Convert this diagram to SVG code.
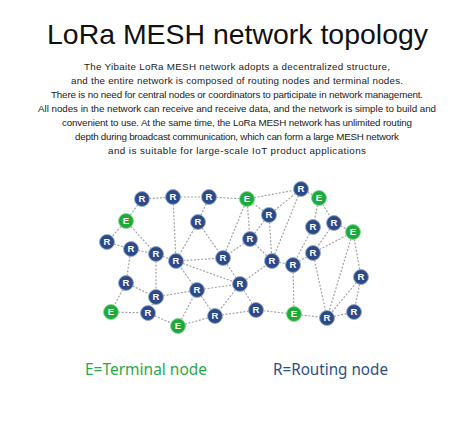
<svg xmlns="http://www.w3.org/2000/svg" width="474" height="424" viewBox="0 0 474 424">
<style>
.title{font-family:"Liberation Sans",Arial,sans-serif;font-size:28px;fill:#111}
.para{font-family:"Liberation Sans",Arial,sans-serif;font-size:9.8px;fill:#222;text-anchor:middle}
.edge{stroke:#a3a3a8;stroke-width:1.2;stroke-dasharray:2 1.6;fill:none}
.r circle{fill:#2c4a88;stroke:#9aaccd;stroke-width:1}
.e circle{fill:#1daa3a;stroke:#8ad89a;stroke-width:1}
.lbl{font-family:"Liberation Sans",Arial,sans-serif;font-size:9.5px;font-weight:bold;fill:#fff;text-anchor:middle}
.leg{font-family:"Noto Sans","Liberation Sans",sans-serif;font-size:15.5px}
</style>
<rect width="474" height="424" fill="#fff"/>
<text class="title" x="47" y="43.5" textLength="381" lengthAdjust="spacingAndGlyphs">LoRa MESH network topology</text>
<g id="description">
<text class="para" x="237" y="70" textLength="306" lengthAdjust="spacing">The Yibaite LoRa MESH network adopts a decentralized structure,</text>
<text class="para" x="237" y="84" textLength="332" lengthAdjust="spacing">and the entire network is composed of routing nodes and terminal nodes.</text>
<text class="para" x="237" y="98" textLength="372" lengthAdjust="spacing">There is no need for central nodes or coordinators to participate in network management.</text>
<text class="para" x="237" y="112" textLength="398" lengthAdjust="spacing">All nodes in the network can receive and receive data, and the network is simple to build and</text>
<text class="para" x="237" y="126" textLength="350" lengthAdjust="spacing">convenient to use. At the same time, the LoRa MESH network has unlimited routing</text>
<text class="para" x="237" y="140" textLength="324" lengthAdjust="spacing">depth during broadcast communication, which can form a large MESH network</text>
<text class="para" x="237" y="154" textLength="258" lengthAdjust="spacing">and is suitable for large-scale IoT product applications</text>
</g>
<g id="connectors" class="edge">
<line x1="142" y1="199" x2="173" y2="197"/>
<line x1="173" y1="197" x2="209" y2="197"/>
<line x1="209" y1="197" x2="247" y2="199"/>
<line x1="142" y1="199" x2="126" y2="221"/>
<line x1="126" y1="221" x2="107" y2="242"/>
<line x1="107" y1="242" x2="131" y2="249"/>
<line x1="131" y1="249" x2="156" y2="254"/>
<line x1="126" y1="221" x2="156" y2="254"/>
<line x1="156" y1="254" x2="176" y2="261"/>
<line x1="173" y1="197" x2="176" y2="261"/>
<line x1="209" y1="197" x2="198" y2="222"/>
<line x1="198" y1="222" x2="176" y2="261"/>
<line x1="198" y1="222" x2="223" y2="258"/>
<line x1="176" y1="261" x2="223" y2="258"/>
<line x1="247" y1="199" x2="301" y2="189"/>
<line x1="247" y1="199" x2="269" y2="215"/>
<line x1="247" y1="199" x2="250" y2="239"/>
<line x1="247" y1="199" x2="223" y2="258"/>
<line x1="269" y1="215" x2="250" y2="239"/>
<line x1="269" y1="215" x2="301" y2="189"/>
<line x1="301" y1="189" x2="272" y2="261"/>
<line x1="301" y1="189" x2="319" y2="198"/>
<line x1="319" y1="198" x2="313" y2="227"/>
<line x1="319" y1="198" x2="334" y2="223"/>
<line x1="334" y1="223" x2="353" y2="232"/>
<line x1="313" y1="227" x2="293" y2="265"/>
<line x1="334" y1="223" x2="313" y2="253"/>
<line x1="313" y1="253" x2="353" y2="232"/>
<line x1="313" y1="253" x2="293" y2="265"/>
<line x1="272" y1="261" x2="293" y2="265"/>
<line x1="250" y1="239" x2="272" y2="261"/>
<line x1="269" y1="215" x2="272" y2="261"/>
<line x1="250" y1="239" x2="223" y2="258"/>
<line x1="353" y1="232" x2="361" y2="277"/>
<line x1="353" y1="232" x2="327" y2="318"/>
<line x1="361" y1="277" x2="327" y2="318"/>
<line x1="361" y1="277" x2="354" y2="312"/>
<line x1="327" y1="318" x2="354" y2="312"/>
<line x1="294" y1="314" x2="327" y2="318"/>
<line x1="293" y1="265" x2="294" y2="314"/>
<line x1="313" y1="253" x2="327" y2="318"/>
<line x1="294" y1="314" x2="256" y2="310"/>
<line x1="240" y1="284" x2="256" y2="310"/>
<line x1="240" y1="284" x2="272" y2="261"/>
<line x1="240" y1="284" x2="215" y2="316"/>
<line x1="256" y1="310" x2="215" y2="316"/>
<line x1="240" y1="284" x2="223" y2="258"/>
<line x1="131" y1="249" x2="126" y2="283"/>
<line x1="126" y1="283" x2="111" y2="312"/>
<line x1="126" y1="283" x2="156" y2="297"/>
<line x1="156" y1="254" x2="156" y2="297"/>
<line x1="156" y1="297" x2="148" y2="313"/>
<line x1="111" y1="312" x2="148" y2="313"/>
<line x1="148" y1="313" x2="178" y2="326"/>
<line x1="178" y1="326" x2="215" y2="316"/>
<line x1="178" y1="326" x2="197" y2="290"/>
<line x1="156" y1="297" x2="197" y2="290"/>
<line x1="197" y1="290" x2="176" y2="261"/>
<line x1="197" y1="290" x2="215" y2="316"/>
<line x1="197" y1="290" x2="240" y2="284"/>
<line x1="176" y1="261" x2="240" y2="284"/>
</g>
<g id="n1" class="r"><circle cx="142" cy="199" r="7.5"/><text class="lbl" x="142" y="202.4">R</text></g>
<g id="n2" class="r"><circle cx="173" cy="197" r="7.5"/><text class="lbl" x="173" y="200.4">R</text></g>
<g id="n3" class="r"><circle cx="209" cy="197" r="7.5"/><text class="lbl" x="209" y="200.4">R</text></g>
<g id="n4" class="e"><circle cx="247" cy="199" r="7.5"/><text class="lbl" x="247" y="202.4">E</text></g>
<g id="n5" class="r"><circle cx="301" cy="189" r="7.5"/><text class="lbl" x="301" y="192.4">R</text></g>
<g id="n6" class="e"><circle cx="319" cy="198" r="7.5"/><text class="lbl" x="319" y="201.4">E</text></g>
<g id="n7" class="e"><circle cx="126" cy="221" r="7.5"/><text class="lbl" x="126" y="224.4">E</text></g>
<g id="n8" class="r"><circle cx="198" cy="222" r="7.5"/><text class="lbl" x="198" y="225.4">R</text></g>
<g id="n9" class="r"><circle cx="269" cy="215" r="7.5"/><text class="lbl" x="269" y="218.4">R</text></g>
<g id="n10" class="r"><circle cx="313" cy="227" r="7.5"/><text class="lbl" x="313" y="230.4">R</text></g>
<g id="n11" class="r"><circle cx="334" cy="223" r="7.5"/><text class="lbl" x="334" y="226.4">R</text></g>
<g id="n12" class="e"><circle cx="353" cy="232" r="7.5"/><text class="lbl" x="353" y="235.4">E</text></g>
<g id="n13" class="r"><circle cx="107" cy="242" r="7.5"/><text class="lbl" x="107" y="245.4">R</text></g>
<g id="n14" class="r"><circle cx="131" cy="249" r="7.5"/><text class="lbl" x="131" y="252.4">R</text></g>
<g id="n15" class="r"><circle cx="156" cy="254" r="7.5"/><text class="lbl" x="156" y="257.4">R</text></g>
<g id="n16" class="r"><circle cx="176" cy="261" r="7.5"/><text class="lbl" x="176" y="264.4">R</text></g>
<g id="n17" class="r"><circle cx="223" cy="258" r="7.5"/><text class="lbl" x="223" y="261.4">R</text></g>
<g id="n18" class="r"><circle cx="250" cy="239" r="7.5"/><text class="lbl" x="250" y="242.4">R</text></g>
<g id="n19" class="r"><circle cx="272" cy="261" r="7.5"/><text class="lbl" x="272" y="264.4">R</text></g>
<g id="n20" class="r"><circle cx="293" cy="265" r="7.5"/><text class="lbl" x="293" y="268.4">R</text></g>
<g id="n21" class="r"><circle cx="313" cy="253" r="7.5"/><text class="lbl" x="313" y="256.4">R</text></g>
<g id="n22" class="r"><circle cx="361" cy="277" r="7.5"/><text class="lbl" x="361" y="280.4">R</text></g>
<g id="n23" class="r"><circle cx="126" cy="283" r="7.5"/><text class="lbl" x="126" y="286.4">R</text></g>
<g id="n24" class="r"><circle cx="156" cy="297" r="7.5"/><text class="lbl" x="156" y="300.4">R</text></g>
<g id="n25" class="r"><circle cx="197" cy="290" r="7.5"/><text class="lbl" x="197" y="293.4">R</text></g>
<g id="n26" class="r"><circle cx="240" cy="284" r="7.5"/><text class="lbl" x="240" y="287.4">R</text></g>
<g id="n27" class="e"><circle cx="111" cy="312" r="7.5"/><text class="lbl" x="111" y="315.4">E</text></g>
<g id="n28" class="r"><circle cx="148" cy="313" r="7.5"/><text class="lbl" x="148" y="316.4">R</text></g>
<g id="n29" class="e"><circle cx="178" cy="326" r="7.5"/><text class="lbl" x="178" y="329.4">E</text></g>
<g id="n30" class="r"><circle cx="215" cy="316" r="7.5"/><text class="lbl" x="215" y="319.4">R</text></g>
<g id="n31" class="r"><circle cx="256" cy="310" r="7.5"/><text class="lbl" x="256" y="313.4">R</text></g>
<g id="n32" class="e"><circle cx="294" cy="314" r="7.5"/><text class="lbl" x="294" y="317.4">E</text></g>
<g id="n33" class="r"><circle cx="327" cy="318" r="7.5"/><text class="lbl" x="327" y="321.4">R</text></g>
<g id="n34" class="r"><circle cx="354" cy="312" r="7.5"/><text class="lbl" x="354" y="315.4">R</text></g>
<g id="legend">
<text class="leg" x="85" y="374.5" fill="#2aa84a" textLength="122" lengthAdjust="spacingAndGlyphs">E=Terminal node</text>
<text class="leg" x="273" y="374.5" fill="#2d4e8a" textLength="115" lengthAdjust="spacingAndGlyphs">R=Routing node</text>
</g>
</svg>
